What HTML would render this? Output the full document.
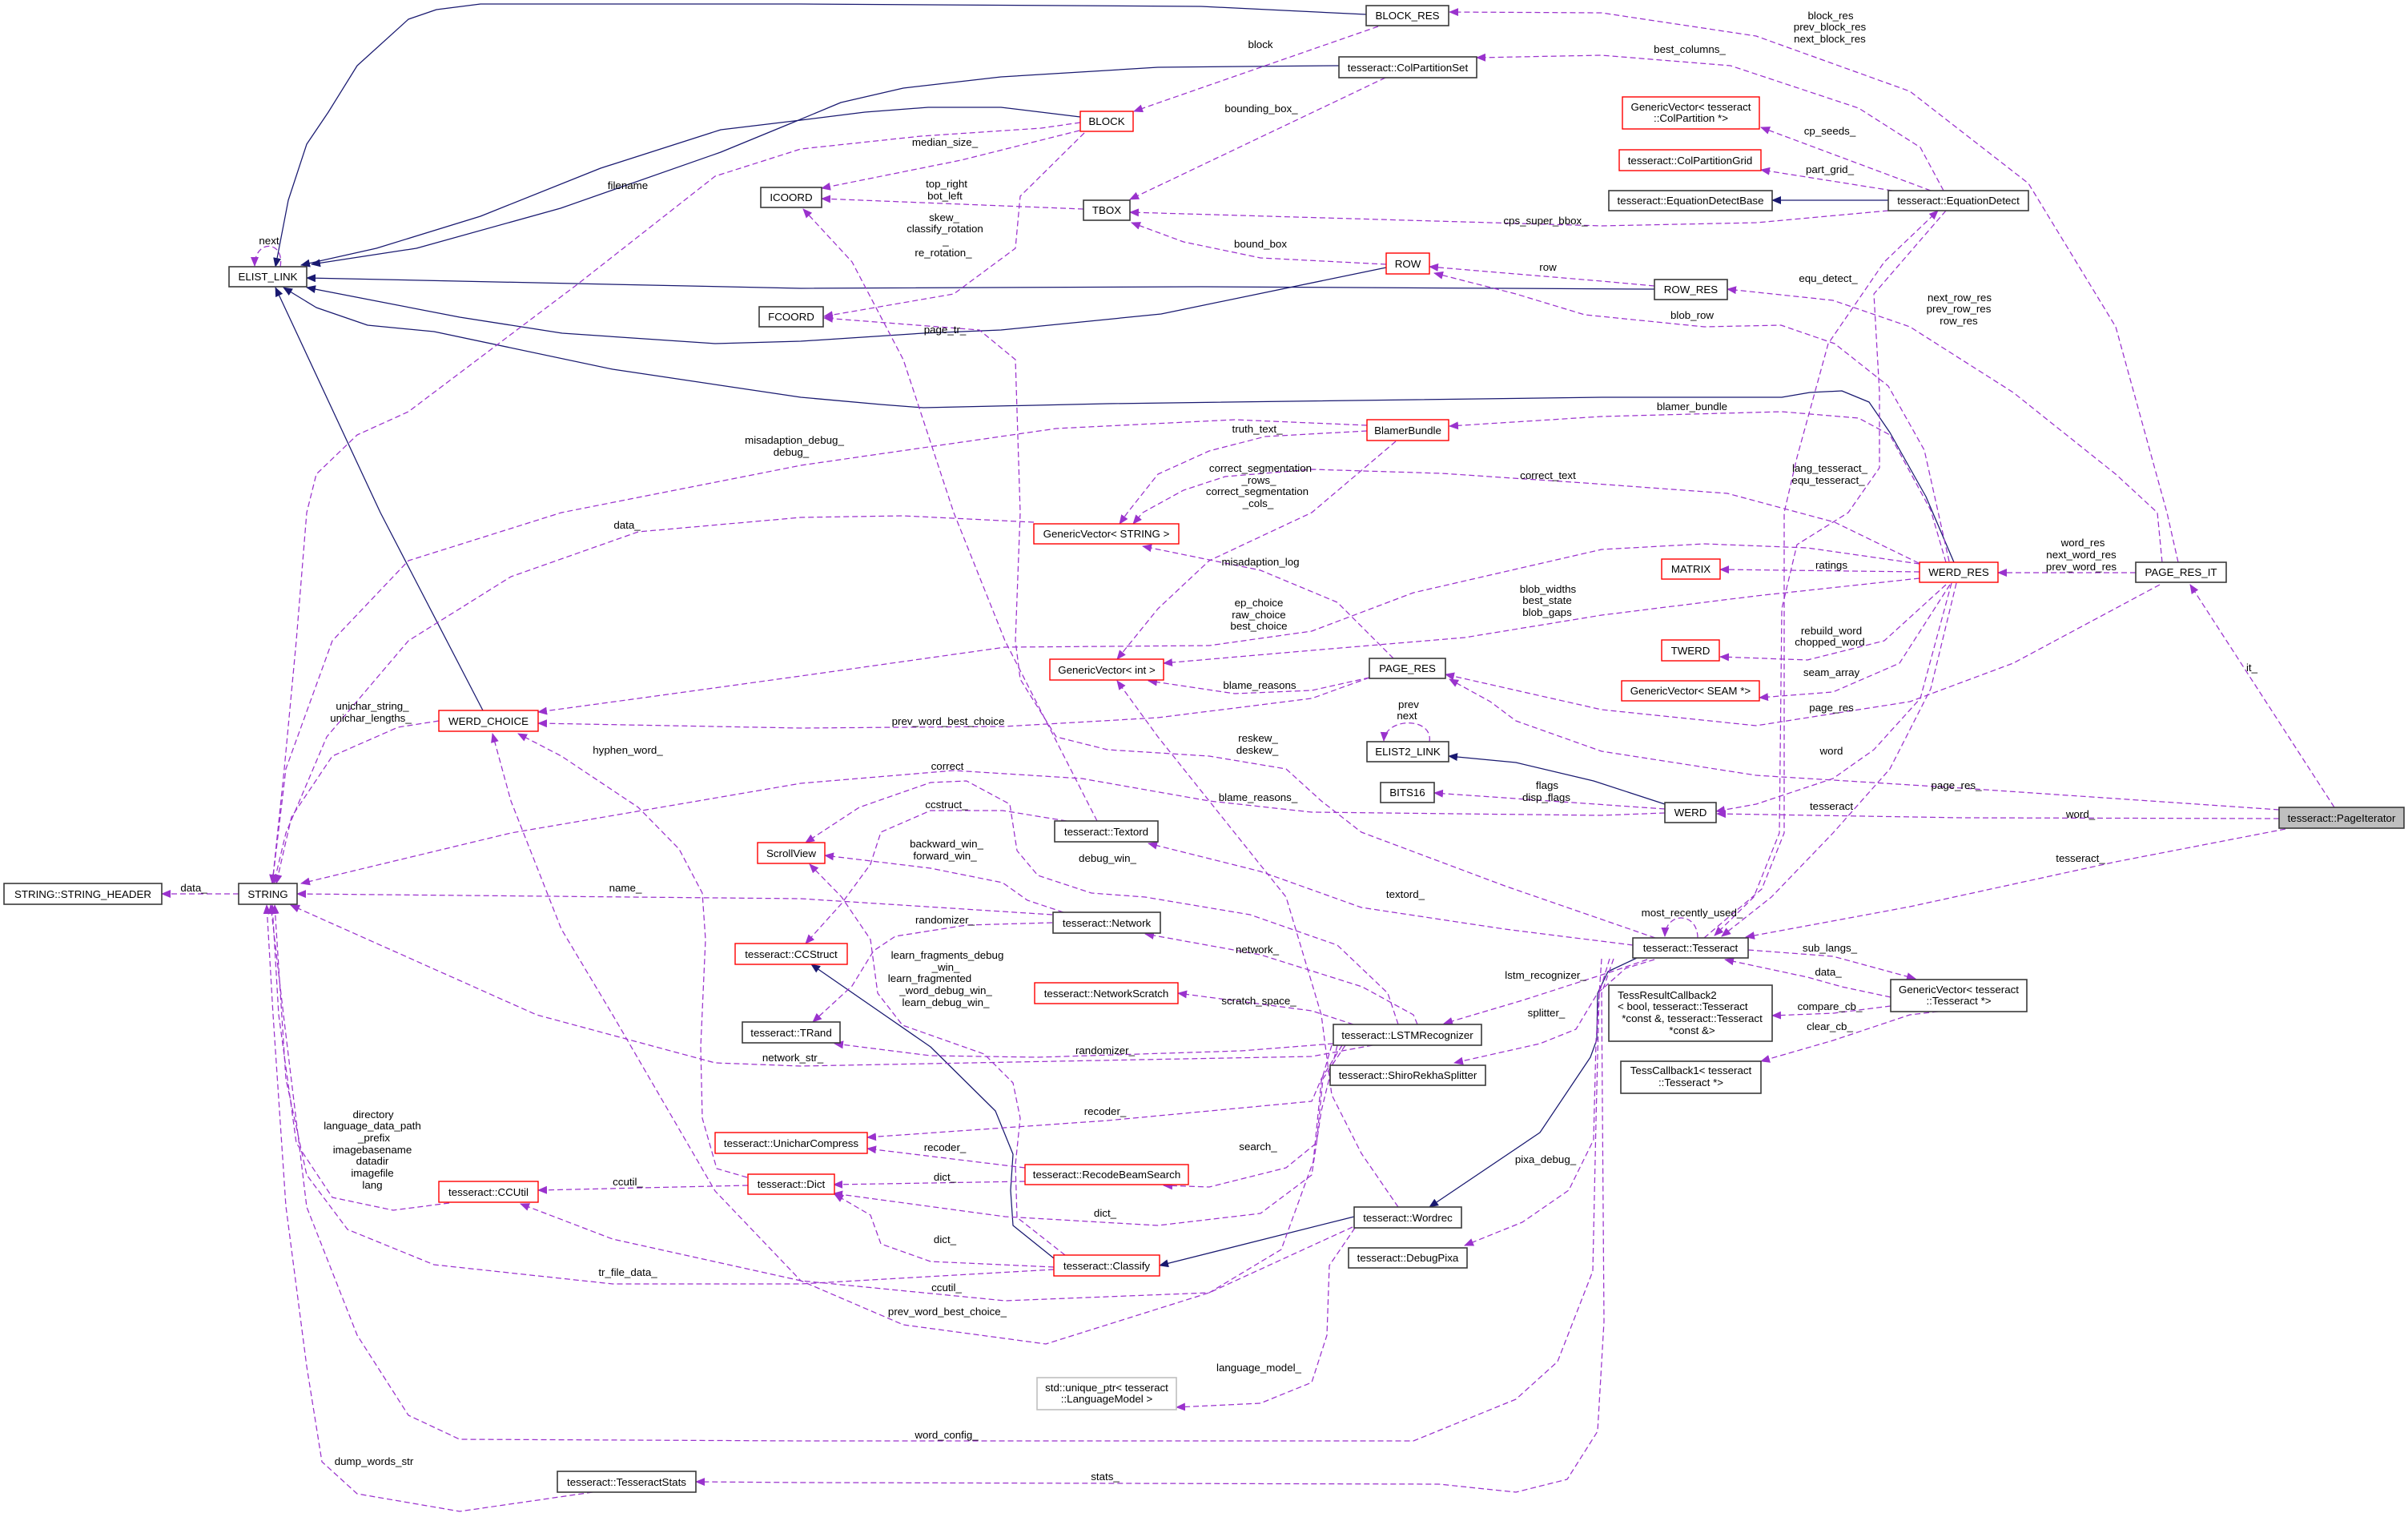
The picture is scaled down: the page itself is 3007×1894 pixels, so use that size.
<!DOCTYPE html>
<html><head><meta charset="utf-8"><style>
html,body{margin:0;padding:0;background:#fff;}
svg{display:block;}
text{font-family:"Liberation Sans",Arial,sans-serif;font-size:13.33px;fill:#000;}
.d{fill:none;stroke:#9a32cd;stroke-width:1.25;stroke-dasharray:7,4;stroke-linejoin:round;marker-end:url(#ap);}
.s{fill:none;stroke:#191970;stroke-width:1.25;stroke-linejoin:round;marker-end:url(#an);}
.nb{fill:#fff;stroke:#3a3a3a;stroke-width:1.6;}
.nr{fill:#fff;stroke:#ff0000;stroke-width:1.4;}
.ng{fill:#fff;stroke:#bfbfbf;stroke-width:1.6;}
.nk{fill:#bfbfbf;stroke:#3a3a3a;stroke-width:1.6;}
</style></head><body>
<svg width="3007" height="1894" viewBox="0 0 3007 1894" xmlns="http://www.w3.org/2000/svg">
<defs>
<marker id="ap" viewBox="0 0 12 10" refX="11" refY="5" markerWidth="12" markerHeight="10" markerUnits="userSpaceOnUse" orient="auto"><path d="M0,0 L12,5 L0,10 z" fill="#9a32cd"/></marker>
<marker id="an" viewBox="0 0 12 10" refX="11" refY="5" markerWidth="12" markerHeight="10" markerUnits="userSpaceOnUse" orient="auto"><path d="M0,0 L12,5 L0,10 z" fill="#191970"/></marker>
</defs>
<rect width="3007" height="1894" fill="#fff"/>

<!-- solid inheritance edges -->
<polyline class="s" points="1706,18 1500,8 1000,5 600,5 545,12 510,24 446,82 410,140 383,180 360,250 344,333"/>
<polyline class="s" points="1672,82 1446,84 1250,96 1128,110 1050,128 990,153 900,190 700,260 520,310 389,330"/>
<polyline class="s" points="1349,146 1250,134 1159,134 1080,140 1000,150 900,162 750,210 600,270 470,310 376,331"/>
<polyline class="s" points="1731,334 1450,392 1250,412 1153,416 1000,426 893,429 702,416 574,396 383,359"/>
<polyline class="s" points="2066,361 1500,358 1000,360 383,347"/>
<polyline class="s" points="2440,702 2405,620 2360,540 2334,502 2300,488 2260,490 2225,496 2000,496 1383,504 1153,509 1100,505 1000,496 765,461 542,414 459,406 395,384 354,359"/>
<polyline class="s" points="603,887 475,640 344,359"/>
<polyline class="s" points="2079,1004 1990,975 1893,952 1809,944"/>
<polyline class="s" points="2358,250 2213,250"/>
<polyline class="s" points="1316,1571 1265,1530 1262,1486 1265,1441 1243,1387 1162,1307 1013,1204"/>
<polyline class="s" points="1691,1519 1448,1580"/>
<polyline class="s" points="2044,1196 2008,1213 1995,1240 1994,1298 1986,1320 1923,1414 1785,1507"/>

<!-- dashed usage edges -->
<path class="d" d="M350,333 C356,300 318,298 318,332"/>
<polyline class="d" points="298,1116 202,1116"/>
<polyline class="d" points="1349,153 1300,160 1150,170 1000,186 893,220 721,355 510,514 446,543 395,592 383,640 370,800 355,960 340,1103"/>
<polyline class="d" points="1707,531 1542,524 1319,535 1000,581 701,640 510,700 415,800 357,960 340,1103"/>
<polyline class="d" points="1291,652 1128,644 1000,646 797,664 638,720 510,800 408,920 357,1040 342,1103"/>
<polyline class="d" points="548,900 497,908 415,944 364,1020 345,1103"/>
<polyline class="d" points="2079,1015 2000,1018 1638,1014 1510,1000 1351,972 1191,962 1000,978 638,1040 376,1103"/>
<polyline class="d" points="1314,1142 1000,1122 371,1116"/>
<polyline class="d" points="1714,1305 1638,1319 1000,1331 893,1327 670,1267 363,1130"/>
<polyline class="d" points="561,1502 491,1511 415,1495 370,1427 348,1267 340,1130"/>
<polyline class="d" points="1316,1585 1000,1603 765,1603 542,1579 434,1535 383,1467 357,1347 343,1130"/>
<polyline class="d" points="2010,1197 1997,1240 1993,1400 1989,1587 1945,1700 1893,1747 1765,1799 1000,1799 574,1797 510,1767 446,1667 383,1507 354,1267 338,1130"/>
<polyline class="d" points="740,1863 574,1887 446,1865 402,1825 383,1706 357,1506 341,1267 333,1130"/>
<polyline class="d" points="2397,704 2257,684 2128,679 2000,686 1765,740 1638,788 1510,806 1255,808 1000,844 797,872 672,889"/>
<polyline class="d" points="1710,846 1638,872 1446,896 1255,907 1000,909 672,903"/>
<polyline class="d" points="1689,1532 1510,1614 1306,1678 1128,1654 1000,1599 893,1487 765,1267 701,1160 638,1000 615,916"/>
<polyline class="d" points="933,1470 895,1459 877,1396 875,1307 881,1173 877,1115 848,1060 797,1008 701,944 647,916"/>
<polyline class="d" points="1721,33 1416,139"/>
<polyline class="d" points="1730,97 1411,249"/>
<polyline class="d" points="2358,263 2193,278 2000,282 1411,265"/>
<polyline class="d" points="1731,330 1574,322 1478,302 1413,278"/>
<polyline class="d" points="1348,163 1200,200 1026,235"/>
<polyline class="d" points="1353,261 1026,248"/>
<polyline class="d" points="1354,166 1274,245 1268,310 1191,367 1029,395"/>
<polyline class="d" points="1370,1025 1255,800 1191,640 1128,449 1064,327 1003,261"/>
<polyline class="d" points="2067,1171 1879,1106 1700,1039 1650,1000 1606,960 1510,944 1383,936 1319,920 1274,848 1268,800 1274,640 1268,449 1223,412 1029,397"/>
<polyline class="d" points="2066,357 2000,351 1785,333"/>
<polyline class="d" points="2434,701 2403,562 2358,482 2291,429 2224,406 2128,408 1979,393 1893,367 1791,341"/>
<polyline class="d" points="1707,538 1580,545 1510,563 1446,592 1408,640 1398,654"/>
<polyline class="d" points="2396,703 2291,652 2157,616 1979,603 1800,591 1638,586 1530,595 1478,612 1427,640 1415,654"/>
<polyline class="d" points="1740,822 1670,752 1574,712 1427,682"/>
<polyline class="d" points="1743,551 1638,640 1510,700 1446,760 1395,823"/>
<polyline class="d" points="2397,722 2193,744 2000,768 1829,796 1638,812 1453,828"/>
<polyline class="d" points="1710,846 1638,862 1542,866 1434,850"/>
<polyline class="d" points="1746,1507 1700,1440 1663,1367 1650,1267 1606,1120 1510,1000 1446,920 1395,850"/>
<polyline class="d" points="2697,730 2514,828 2385,876 2193,906 2000,886 1805,842"/>
<polyline class="d" points="2846,1011 2450,984 2193,968 2000,938 1893,900 1861,876 1810,848"/>
<path class="d" d="M1785,926 C1790,895 1730,895 1728,925"/>
<polyline class="d" points="2079,1010 1791,990"/>
<polyline class="d" points="2437,728 2398,872 2340,936 2289,972 2193,1004 2143,1013"/>
<polyline class="d" points="2846,1022 2450,1021 2144,1016"/>
<polyline class="d" points="2667,715 2495,715"/>
<polyline class="d" points="2397,714 2148,711"/>
<polyline class="d" points="2430,730 2353,800 2257,824 2148,820"/>
<polyline class="d" points="2435,730 2372,828 2289,864 2197,871"/>
<polyline class="d" points="2700,702 2694,640 2642,592 2514,490 2385,408 2289,375 2157,361"/>
<polyline class="d" points="2430,702 2411,637 2360,543 2321,522 2225,514 2000,520 1810,532"/>
<polyline class="d" points="2720,702 2706,640 2642,408 2533,229 2385,114 2193,45 2000,16 1810,15"/>
<polyline class="d" points="2427,238 2398,184 2321,135 2161,82 2000,69 1844,72"/>
<polyline class="d" points="2411,238 2199,159"/>
<polyline class="d" points="2363,238 2199,212"/>
<polyline class="d" points="2128,1171 2200,1110 2228,1040 2228,640 2244,571 2283,429 2353,327 2420,263"/>
<polyline class="d" points="2430,263 2340,367 2347,490 2347,584 2308,640 2244,680 2225,760 2222,1040 2190,1120 2141,1168"/>
<polyline class="d" points="2443,728 2411,860 2360,960 2289,1040 2212,1120 2150,1169"/>
<polyline class="d" points="2854,1035 2642,1076 2385,1132 2180,1170"/>
<path class="d" d="M2120,1171 C2120,1138 2080,1138 2079,1169"/>
<polyline class="d" points="2361,1245 2300,1232 2257,1220 2154,1198"/>
<polyline class="d" points="2183,1186 2289,1194 2392,1222"/>
<polyline class="d" points="2361,1256 2290,1265 2213,1268"/>
<polyline class="d" points="2420,1263 2385,1267 2289,1299 2199,1325"/>
<polyline class="d" points="2039,1180 1879,1160 1700,1133 1574,1088 1434,1053"/>
<polyline class="d" points="1746,1279 1733,1240 1670,1180 1561,1142 1430,1120 1363,1115 1296,1093 1270,1062 1261,1004 1207,975 1162,977 1073,1008 1006,1052"/>
<polyline class="d" points="1328,1139 1283,1124 1252,1102 1162,1084 1030,1068"/>
<polyline class="d" points="1330,1567 1270,1520 1268,1454 1274,1396 1265,1352 1229,1316 1127,1280 1096,1240 1087,1173 1051,1120 1011,1079"/>
<polyline class="d" points="1332,1025 1252,1012 1162,1012 1100,1039 1087,1079 1051,1128 1006,1178"/>
<polyline class="d" points="1314,1152 1207,1155 1118,1169 1091,1187 1064,1231 1015,1276"/>
<polyline class="d" points="1665,1303 1550,1312 1296,1320 1162,1318 1042,1303"/>
<polyline class="d" points="1770,1279 1765,1267 1701,1232 1574,1192 1430,1166"/>
<polyline class="d" points="1690,1279 1638,1262 1471,1240"/>
<polyline class="d" points="1676,1305 1650,1347 1638,1375 1383,1399 1083,1420"/>
<polyline class="d" points="1280,1458 1083,1434"/>
<polyline class="d" points="1280,1475 1041,1479"/>
<polyline class="d" points="1670,1305 1650,1387 1638,1467 1574,1515 1446,1530 1255,1519 1041,1490"/>
<polyline class="d" points="1316,1582 1162,1575 1100,1553 1087,1517 1042,1491"/>
<polyline class="d" points="1680,1305 1652,1347 1644,1427 1606,1458 1510,1482 1453,1480"/>
<polyline class="d" points="1692,1533 1660,1580 1657,1667 1638,1726 1574,1752 1469,1757"/>
<polyline class="d" points="934,1480 672,1486"/>
<polyline class="d" points="1663,1305 1650,1350 1640,1450 1600,1560 1510,1614 1255,1624 1000,1599 765,1547 650,1503"/>
<polyline class="d" points="2015,1197 2000,1240 2003,1650 1995,1787 1957,1847 1893,1863 1797,1853 1000,1851 869,1850"/>
<polyline class="d" points="2000,1197 1993,1300 1990,1423 1959,1486 1901,1526 1829,1555"/>
<polyline class="d" points="2066,1198 2030,1209 1995,1240 1968,1285 1923,1303 1816,1327"/>
<polyline class="d" points="2057,1198 2013,1213 1901,1249 1803,1278"/>
<polyline class="d" points="2915,1008 2735,730"/>

<!-- edge labels -->
<g text-anchor="middle">
<text x="336" y="305">next</text>
<text x="784" y="236">filename</text>
<text x="1574" y="60">block</text>
<text x="1180" y="182">median_size_</text>
<text x="1575" y="140">bounding_box_</text>
<text x="1182" y="234">top_right</text><text x="1180" y="249">bot_left</text>
<text x="1179" y="276">skew_</text><text x="1180" y="290">classify_rotation</text><text x="1181" y="305">_</text><text x="1178" y="320">re_rotation_</text>
<text x="1574" y="309">bound_box</text>
<text x="1933" y="338">row</text>
<text x="1180" y="416">page_tr_</text>
<text x="1570" y="540">truth_text_</text>
<text x="1574" y="589">correct_segmentation</text><text x="1572" y="604">_rows_</text><text x="1570" y="618">correct_segmentation</text><text x="1571" y="633">_cols_</text>
<text x="1933" y="598">correct_text</text>
<text x="1930" y="280">cps_super_bbox_</text>
<text x="2286" y="24">block_res</text><text x="2285" y="38">prev_block_res</text><text x="2285" y="53">next_block_res</text>
<text x="2110" y="66">best_columns_</text>
<text x="2285" y="168">cp_seeds_</text>
<text x="2285" y="216">part_grid_</text>
<text x="2283" y="352">equ_detect_</text>
<text x="2447" y="376">next_row_res</text><text x="2446" y="390">prev_row_res</text><text x="2446" y="405">row_res</text>
<text x="2113" y="398">blob_row</text>
<text x="2113" y="512">blamer_bundle</text>
<text x="2285" y="589">lang_tesseract_</text><text x="2283" y="604">equ_tesseract_</text>
<text x="992" y="554">misadaption_debug_</text><text x="988" y="569">debug_</text>
<text x="783" y="660">data_</text>
<text x="465" y="886">unichar_string_</text><text x="463" y="901">unichar_lengths_</text>
<text x="784" y="941">hyphen_word_</text>
<text x="242" y="1113">data_</text>
<text x="781" y="1113">name_</text>
<text x="1574" y="706">misadaption_log</text>
<text x="1572" y="757">ep_choice</text><text x="1572" y="772">raw_choice</text><text x="1572" y="786">best_choice</text>
<text x="1933" y="740">blob_widths</text><text x="1932" y="754">best_state</text><text x="1932" y="769">blob_gaps</text>
<text x="1573" y="860">blame_reasons</text>
<text x="1184" y="905">prev_word_best_choice</text>
<text x="1759" y="884">prev</text><text x="1757" y="898">next</text>
<text x="1571" y="926">reskew_</text><text x="1570" y="941">deskew_</text>
<text x="1183" y="961">correct</text>
<text x="1571" y="1000">blame_reasons_</text>
<text x="1932" y="985">flags</text><text x="1931" y="1000">disp_flags</text>
<text x="1182" y="1009">ccstruct_</text>
<text x="1182" y="1058">backward_win_</text><text x="1180" y="1073">forward_win_</text>
<text x="1383" y="1076">debug_win_</text>
<text x="1755" y="1121">textord_</text>
<text x="1180" y="1153">randomizer_</text>
<text x="1570" y="1190">network_</text>
<text x="1183" y="1197">learn_fragments_debug</text><text x="1181" y="1212">_win_</text><text x="1161" y="1226">learn_fragmented</text><text x="1181" y="1241">_word_debug_win_</text><text x="1181" y="1256">learn_debug_win_</text>
<text x="1572" y="1254">scratch_space_</text>
<text x="1930" y="1222">lstm_recognizer_</text>
<text x="1931" y="1269">splitter_</text>
<text x="2287" y="710">ratings</text>
<text x="2601" y="682">word_res</text><text x="2599" y="697">next_word_res</text><text x="2599" y="712">prev_word_res</text>
<text x="2287" y="792">rebuild_word</text><text x="2285" y="806">chopped_word</text>
<text x="2287" y="844">seam_array</text>
<text x="2287" y="888">page_res</text>
<text x="2812" y="838">it_</text>
<text x="2287" y="942">word</text>
<text x="2443" y="985">page_res_</text>
<text x="2287" y="1011">tesseract</text>
<text x="2598" y="1021">word_</text>
<text x="2598" y="1076">tesseract_</text>
<text x="2113" y="1144">most_recently_used_</text>
<text x="2285" y="1188">sub_langs_</text>
<text x="2283" y="1218">data_</text>
<text x="2285" y="1261">compare_cb_</text>
<text x="2285" y="1286">clear_cb_</text>
<text x="466" y="1396">directory</text><text x="465" y="1410">language_data_path</text><text x="467" y="1425">_prefix</text><text x="465" y="1440">imagebasename</text><text x="465" y="1454">datadir</text><text x="465" y="1469">imagefile</text><text x="465" y="1484">lang</text>
<text x="784" y="1480">ccutil_</text>
<text x="467" y="1829">dump_words_str</text>
<text x="784" y="1593">tr_file_data_</text>
<text x="1380" y="1316">randomizer_</text>
<text x="990" y="1325">network_str_</text>
<text x="1380" y="1392">recoder_</text>
<text x="1180" y="1437">recoder_</text>
<text x="1571" y="1436">search_</text>
<text x="1180" y="1474">dict_</text>
<text x="1380" y="1519">dict_</text>
<text x="1180" y="1552">dict_</text>
<text x="1182" y="1612">ccutil_</text>
<text x="1183" y="1642">prev_word_best_choice_</text>
<text x="1930" y="1452">pixa_debug_</text>
<text x="1572" y="1712">language_model_</text>
<text x="1182" y="1796">word_config_</text>
<text x="1380" y="1848">stats_</text>
</g>

<!-- nodes -->
<g text-anchor="middle">
<rect class="nb" x="286" y="333" width="97" height="25"/><text x="334.5" y="350">ELIST_LINK</text>
<rect class="nb" x="1706" y="7" width="103" height="25"/><text x="1757.5" y="24">BLOCK_RES</text>
<rect class="nb" x="1672" y="71" width="172" height="26"/><text x="1758" y="89">tesseract::ColPartitionSet</text>
<rect class="nr" x="1349" y="139" width="66" height="25"/><text x="1382" y="156">BLOCK</text>
<rect class="nb" x="950" y="234" width="76" height="25"/><text x="988" y="251">ICOORD</text>
<rect class="nb" x="1353" y="250" width="58" height="25"/><text x="1382" y="267">TBOX</text>
<rect class="nr" x="1731" y="316" width="54" height="26"/><text x="1758" y="334">ROW</text>
<rect class="nb" x="948" y="383" width="80" height="25"/><text x="988" y="400">FCOORD</text>
<rect class="nr" x="1707" y="524" width="102" height="26"/><text x="1758" y="542">BlamerBundle</text>
<rect class="nr" x="2026" y="121" width="171" height="40"/><text x="2111.5" y="138">GenericVector&lt; tesseract</text><text x="2111.5" y="152">::ColPartition *&gt;</text>
<rect class="nr" x="2022" y="187" width="177" height="26"/><text x="2110.5" y="205">tesseract::ColPartitionGrid</text>
<rect class="nb" x="2009" y="238" width="204" height="25"/><text x="2111" y="255">tesseract::EquationDetectBase</text>
<rect class="nb" x="2358" y="238" width="175" height="25"/><text x="2445.5" y="255">tesseract::EquationDetect</text>
<rect class="nb" x="2066" y="349" width="91" height="25"/><text x="2111.5" y="366">ROW_RES</text>
<rect class="nr" x="548" y="887" width="124" height="26"/><text x="610" y="905">WERD_CHOICE</text>
<rect class="nb" x="5" y="1103" width="197" height="26"/><text x="103.5" y="1121">STRING::STRING_HEADER</text>
<rect class="nb" x="298" y="1103" width="73" height="26"/><text x="334.5" y="1121">STRING</text>
<rect class="nr" x="946" y="1052" width="84" height="26"/><text x="988" y="1070">ScrollView</text>
<rect class="nr" x="918" y="1178" width="140" height="26"/><text x="988" y="1196">tesseract::CCStruct</text>
<rect class="nr" x="1291" y="654" width="181" height="25"/><text x="1381.5" y="671">GenericVector&lt; STRING &gt;</text>
<rect class="nr" x="1311" y="823" width="142" height="26"/><text x="1382" y="841">GenericVector&lt; int &gt;</text>
<rect class="nb" x="1710" y="822" width="95" height="25"/><text x="1757.5" y="839">PAGE_RES</text>
<rect class="nb" x="1707" y="926" width="102" height="25"/><text x="1758" y="943">ELIST2_LINK</text>
<rect class="nb" x="1724" y="977" width="67" height="25"/><text x="1757.5" y="994">BITS16</text>
<rect class="nb" x="1317" y="1025" width="129" height="26"/><text x="1381.5" y="1043">tesseract::Textord</text>
<rect class="nb" x="1315" y="1139" width="134" height="26"/><text x="1382" y="1157">tesseract::Network</text>
<rect class="nr" x="1292" y="1227" width="179" height="26"/><text x="1381.5" y="1245">tesseract::NetworkScratch</text>
<rect class="nr" x="2075" y="698" width="73" height="25"/><text x="2111.5" y="715">MATRIX</text>
<rect class="nr" x="2397" y="702" width="98" height="25"/><text x="2446" y="719">WERD_RES</text>
<rect class="nb" x="2667" y="702" width="113" height="25"/><text x="2723.5" y="719">PAGE_RES_IT</text>
<rect class="nr" x="2075" y="799" width="72" height="26"/><text x="2111" y="817">TWERD</text>
<rect class="nr" x="2025" y="850" width="172" height="25"/><text x="2111" y="867">GenericVector&lt; SEAM *&gt;</text>
<rect class="nb" x="2079" y="1002" width="64" height="25"/><text x="2111" y="1019">WERD</text>
<rect class="nk" x="2846" y="1008" width="156" height="26"/><text x="2924" y="1026">tesseract::PageIterator</text>
<rect class="nb" x="2039" y="1171" width="144" height="25"/><text x="2111" y="1188">tesseract::Tesseract</text>
<rect class="nb" x="2361" y="1223" width="170" height="40"/><text x="2446" y="1240">GenericVector&lt; tesseract</text><text x="2446" y="1254">::Tesseract *&gt;</text>
<rect class="nb" x="2009" y="1230" width="204" height="70"/>
<text x="2020" y="1247" text-anchor="start">TessResultCallback2</text>
<text x="2020" y="1261" text-anchor="start">&lt; bool, tesseract::Tesseract</text>
<text x="2113" y="1276">*const &amp;, tesseract::Tesseract</text>
<text x="2113" y="1291">*const &amp;&gt;</text>
<rect class="nb" x="2024" y="1325" width="175" height="40"/><text x="2111.5" y="1341">TessCallback1&lt; tesseract</text><text x="2111.5" y="1356">::Tesseract *&gt;</text>
<rect class="nr" x="548" y="1475" width="124" height="26"/><text x="610" y="1493">tesseract::CCUtil</text>
<rect class="nb" x="696" y="1837" width="173" height="26"/><text x="782.5" y="1855">tesseract::TesseractStats</text>
<rect class="nr" x="893" y="1414" width="190" height="26"/><text x="988" y="1432">tesseract::UnicharCompress</text>
<rect class="nr" x="934" y="1466" width="108" height="25"/><text x="988" y="1483">tesseract::Dict</text>
<rect class="nb" x="927" y="1276" width="122" height="26"/><text x="988" y="1294">tesseract::TRand</text>
<rect class="nb" x="1665" y="1279" width="185" height="26"/><text x="1757.5" y="1297">tesseract::LSTMRecognizer</text>
<rect class="nb" x="1661" y="1330" width="194" height="25"/><text x="1758" y="1347">tesseract::ShiroRekhaSplitter</text>
<rect class="nr" x="1280" y="1454" width="204" height="25"/><text x="1382" y="1471">tesseract::RecodeBeamSearch</text>
<rect class="nb" x="1691" y="1507" width="134" height="26"/><text x="1758" y="1525">tesseract::Wordrec</text>
<rect class="nb" x="1684" y="1558" width="148" height="25"/><text x="1758" y="1575">tesseract::DebugPixa</text>
<rect class="nr" x="1316" y="1567" width="132" height="26"/><text x="1382" y="1585">tesseract::Classify</text>
<rect class="ng" x="1295" y="1720" width="174" height="40"/><text x="1382" y="1737">std::unique_ptr&lt; tesseract</text><text x="1382" y="1751">::LanguageModel &gt;</text>
</g>
</svg>
</body></html>
